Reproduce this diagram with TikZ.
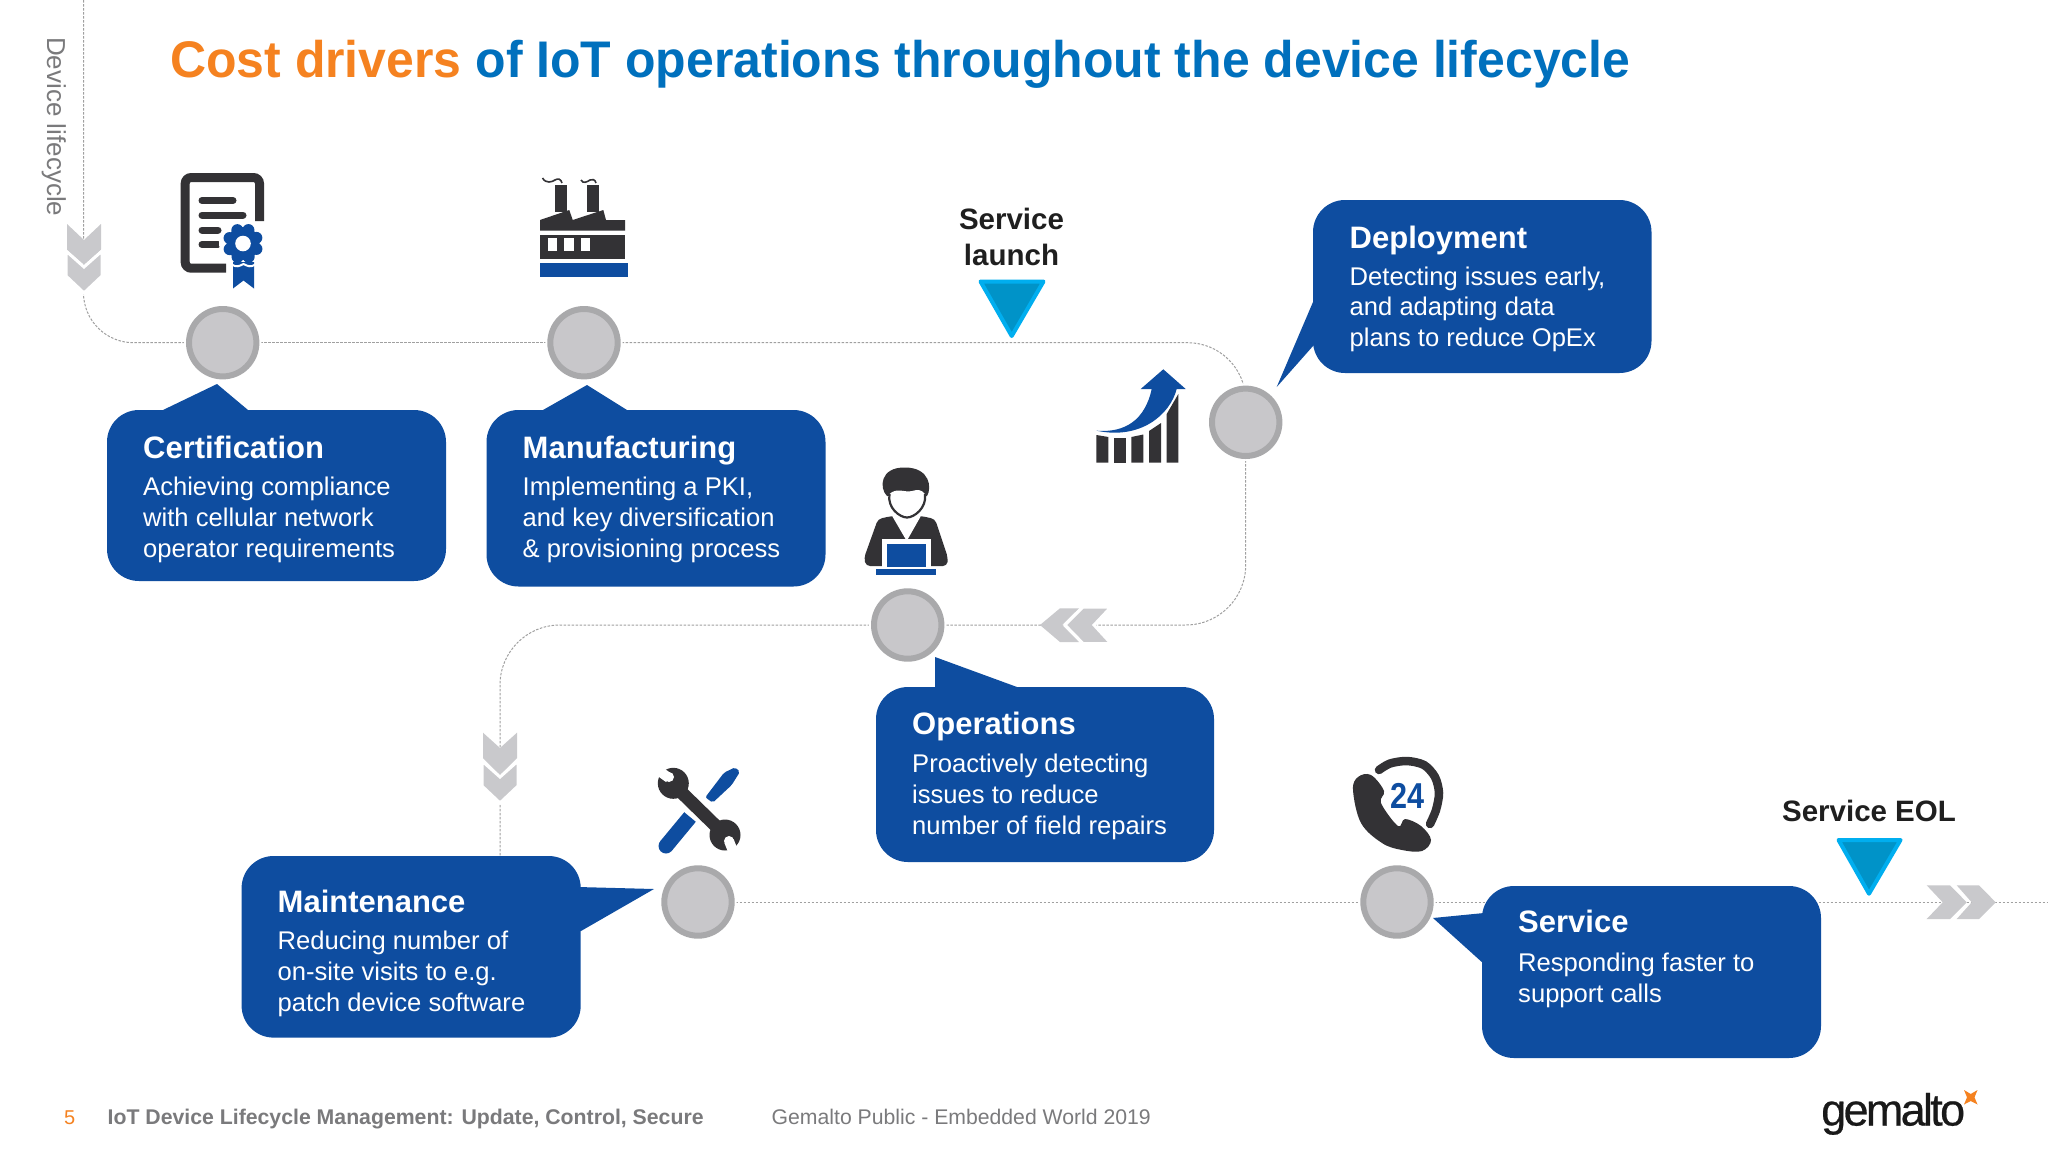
\documentclass[tikz,border=0pt]{standalone}
\usepackage{fontspec}
\setmainfont{Liberation Sans}
\newfontfamily\logofont[LetterSpace=-6,FakeBold=0.5]{Liberation Sans}
\newfontfamily\titlefont[FakeStretch=0.97]{Liberation Sans}
\newfontfamily\narrowfont[FakeStretch=0.85]{Liberation Sans}
\usetikzlibrary{backgrounds}
\definecolor{boxblue}{HTML}{0E4DA0}
\definecolor{iconblue}{HTML}{0E4DA0}
\definecolor{dark}{HTML}{333235}
\definecolor{titleorange}{HTML}{F58220}
\definecolor{titleblue}{HTML}{0070BD}
\definecolor{ringgrey}{HTML}{A9A9AB}
\definecolor{discgrey}{HTML}{C8C7CA}
\definecolor{chevgrey}{HTML}{C9C9CC}
\definecolor{linegrey}{HTML}{A0A0A0}
\definecolor{triout}{HTML}{00AEEF}
\definecolor{triin}{HTML}{0093C8}
\definecolor{foot}{HTML}{7A7A7C}
\tikzset{
  station/.style={circle,fill=discgrey,draw=ringgrey,line width=6pt,inner sep=0pt,outer sep=0pt,minimum size=67.4pt,preaction={draw=white,line width=10pt}},
  flow/.style={draw=linegrey,line width=1pt,dash pattern=on 2.5pt off 1.5pt},
  bluebox/.style={fill=boxblue,rounded corners=32pt},
  head/.style={text=white,anchor=base west,inner sep=0pt,font=\fontsize{31}{34}\selectfont\bfseries},
  body/.style={text=white,anchor=base west,inner sep=0pt,align=left,font=\fontsize{25.6}{30.7}\selectfont},
  marktext/.style={text=black!88,anchor=base,inner sep=0pt,font=\fontsize{29.5}{36}\selectfont\bfseries},
  chev/.style={fill=chevgrey},
  chevw/.style={fill=chevgrey,draw=white,line width=3pt},
  tri/.style={fill=triin,draw=triout,line width=4pt,line join=round},
  ico/.style={fill=dark},
  icb/.style={fill=iconblue},
}
\begin{document}
\begin{tikzpicture}[x=1pt,y=-1pt]
\useasboundingbox (0,0) rectangle (2048,1152);

% Title
\node[anchor=base west,inner sep=0pt,font=\fontsize{51.5}{56}\selectfont\titlefont\bfseries] (title) at (170,77.3)
  {\textcolor{titleorange}{Cost drivers} \textcolor{titleblue}{of IoT operations throughout the device lifecycle}};
\node[anchor=base west,rotate=-90,inner sep=0pt,text=foot,font=\fontsize{26}{30}\selectfont] (life) at (47,37) {Device lifecycle};

% Stations
\node[station] (cert) at (222.7,342.7) {};
\node[station] (manu) at (584,342.7) {};
\node[station] (depl) at (1245.7,422.3) {};
\node[station] (oper) at (907.7,625) {};
\node[station] (maint) at (698,902) {};
\node[station] (serv) at (1397,902) {};
\coordinate (start) at (83.5,0);
\coordinate (mdrop) at (500,860);
\coordinate (finish) at (2048,902);

% Connectors
\begin{scope}[on background layer]
\fill[white] (0,0) rectangle (2048,1152);
\draw[flow,rounded corners=50pt] (start) |- (cert);
\draw[flow] (cert) -- (manu);
\draw[flow,rounded corners=58pt] (manu) -| (depl);
\draw[flow,rounded corners=60pt] (depl) |- (oper);
\draw[flow,rounded corners=60pt] (oper) -| (mdrop);
\draw[flow] (maint) -- (serv);
\draw[flow] (serv) -- (finish);
\end{scope}

% Chevrons
\fill[chev] (67,224) -- (84,240) -- (101,224) -- (101,250) -- (84,265) -- (67,250) -- cycle;
\filldraw[chevw] (66,251) -- (84,267) -- (102,251) -- (102,276) -- (84,293) -- (66,276) -- cycle;
\fill[chev] (483,732.7) -- (500,748) -- (517,732.7) -- (517,758) -- (500,775) -- (483,758) -- cycle;
\filldraw[chevw] (482,761) -- (500,777) -- (518,761) -- (518,786) -- (500,803) -- (482,786) -- cycle;
\fill[chev] (1040,625) -- (1060,608.3) -- (1079,608.3) -- (1062,625) -- (1079,642) -- (1060,642) -- cycle;
\filldraw[chevw] (1065,625) -- (1083,607) -- (1111,607) -- (1094,625) -- (1111,643.5) -- (1083,643.5) -- cycle;
\fill[chev] (1926.7,885.3) -- (1950,885.3) -- (1966.7,902.3) -- (1950,919) -- (1926.7,919) -- (1942.7,902.3) -- cycle;
\fill[chev] (1956.7,885.3) -- (1979,885.3) -- (1995.7,902.3) -- (1979,919) -- (1956.7,919) -- (1971.7,902.3) -- cycle;

% Milestone triangles
\filldraw[tri] (980.5,281.5) -- (1043.5,281.5) -- (1011.7,336) -- cycle;
\filldraw[tri] (1838.5,840) -- (1900.5,840) -- (1869,893.7) -- cycle;
\node[marktext] (sl1) at (1011.5,229.3) {Service};
\node[marktext] (sl2) at (1011.5,265.3) {launch};
\node[marktext] (eol) at (1869,821.7) {Service EOL};

% Callouts
\fill[boxblue] (217,384) -- (163,410) -- (248,410) -- cycle;
\path[bluebox] (107,410) rectangle (446,581);
\node[head] (h1) at (143,458) {Certification};
\node[body] (b1) at (143,557) {Achieving compliance\\with cellular network\\operator requirements};

\fill[boxblue] (587,385) -- (543,410) -- (627,410) -- cycle;
\path[bluebox] (486.5,410) rectangle (825.5,586.5);
\node[head] (h2) at (522.5,458) {Manufacturing};
\node[body] (b2) at (522.5,557) {Implementing a PKI,\\and key diversification\\\& provisioning process};

\fill[boxblue] (1276.7,387) -- (1313,302) -- (1330,302) -- (1330,330) -- (1313,346) -- cycle;
\path[bluebox] (1313,200) rectangle (1651.5,373);
\node[head] (h3) at (1349.5,248) {Deployment};
\node[body] (b3) at (1349.5,346.4) {Detecting issues early,\\and adapting data\\plans to reduce OpEx};

\fill[boxblue] (935,657) -- (935,690) -- (1017,690) -- (1017,687) -- cycle;
\path[bluebox] (876,687) rectangle (1214,862);
\node[head] (h4) at (912,734.3) {Operations};
\node[body] (b4) at (912,834) {Proactively detecting\\issues to reduce\\number of field repairs};

\fill[boxblue] (654,889) -- (578,887) -- (578,931) -- (581,931) -- cycle;
\path[bluebox] (241.6,856) rectangle (580.7,1037.6);
\node[head] (h5) at (277.5,912) {Maintenance};
\node[body] (b5) at (277.5,1011) {Reducing number of\\on-site visits to e.g.\\patch device software};

\fill[boxblue] (1433,918) -- (1484,913) -- (1484,964) -- cycle;
\path[bluebox] (1482,886) rectangle (1821,1058);
\node[head] (h6) at (1518,932.7) {Service};
\node[body] (b6) at (1518,1002.3) {Responding faster to\\support calls};

% Certificate icon
\draw[dark,line width=9pt,rounded corners=6pt] (259.5,221) -- (259.5,177.5) -- (185.2,177.5) -- (185.2,268.2) -- (226,268.2);
\foreach \yy/\xe in {200.5/233,215/243,230/218,244.5/218}
  \draw[dark,line width=7pt,line cap=round] (202,\yy) -- (\xe,\yy);
\fill[white] (243,243.5) circle (24);
\fill[icb] (233,262) -- (254,262) -- (254,288.5) -- (243.5,280.5) -- (233,288.5) -- cycle;
\draw[white,line width=2pt] (231,264) .. controls (237,268) and (239,266) .. (243.5,264) .. controls (248,266) and (250,268) .. (256,264);
\fill[icb] (243,243.5) circle (16.5);
\foreach \aa in {0,45,...,315}
  \fill[icb] (243,243.5) ++(\aa+22:14.5) circle (6);
\fill[white] (243,243.5) circle (7.8);

% Factory icon
\fill[ico] (554.7,185.3) rectangle (566.7,212);
\fill[ico] (586.7,185.3) rectangle (598.7,212);
\fill[ico] (540,230.7) -- (540,220) -- (569.3,210) -- (572.7,220) -- (603.3,210) -- (606,220) -- (625,220) -- (625,230.7) -- cycle;
\fill[ico] (540,234.7) rectangle (625,259);
\fill[white] (547.7,238) rectangle (557,250.7);
\fill[white] (564.3,238) rectangle (573.7,250.7);
\fill[white] (580.7,238) rectangle (590,250.7);
\fill[icb] (539.7,263.3) rectangle (628.3,277.3);
\draw[dark,line width=1.6pt] (542.5,178) .. controls (546,184) and (552,182) .. (555,180) .. controls (558,178) and (561,179) .. (562,183);
\draw[dark,line width=1.6pt] (581,180) .. controls (583,184) and (587,182) .. (590,180) .. controls (592,179) and (595,179) .. (596,183);

% Growth icon
\fill[ico] (1096.3,435) -- (1108.3,437) -- (1108.3,462.7) -- (1096.3,462.7) -- cycle;
\fill[ico] (1113.7,438) -- (1125.7,438) -- (1125.7,462.7) -- (1113.7,462.7) -- cycle;
\fill[ico] (1131.3,437) -- (1143.3,434.5) -- (1143.3,462.7) -- (1131.3,462.7) -- cycle;
\fill[ico] (1149,431) -- (1161,423) -- (1161,462.7) -- (1149,462.7) -- cycle;
\fill[ico] (1166.7,414) -- (1178.3,394) -- (1178.3,462.7) -- (1166.7,462.7) -- cycle;
\fill[icb] (1163.3,369.3) -- (1185.7,389) -- (1176.7,389) .. controls (1170,415) and (1140,440) .. (1096.7,430.7)
   .. controls (1125,433) and (1145,420) .. (1151.7,389) -- (1140.7,389) -- cycle;

% Person icon
\fill[ico,rounded corners=4pt] (892,516) -- (878,519) -- (864,558) -- (866,566) -- (947,566) -- (948,558) -- (935,519) -- (921,516) -- cycle;
\fill[white] (891,514) -- (906.7,541) -- (922,514) -- cycle;
\fill[white] (881.7,539) rectangle (931,569);
\fill[icb] (886.7,544) rectangle (926,566.7);
\fill[icb] (875.7,569.3) rectangle (936,575);
\fill[ico] (887,496) .. controls (879,488) and (880,467) .. (905,467.5) .. controls (930,467.5) and (932,488) .. (927,496) -- cycle;
\fill[white] (889.5,494) .. controls (897,487) and (905,493) .. (912,491) .. controls (918,489) and (922,490) .. (925,494) .. controls (927,508) and (914,517) .. (907,517) .. controls (900,517) and (887,508) .. (889.5,494) -- cycle;
\draw[dark,line width=2.2pt] (889.5,494) .. controls (887,508) and (900,517.5) .. (907,517.5) .. controls (914,517.5) and (927,508) .. (925,494);

% Tools icon
\draw[draw=iconblue,line width=15pt] (690,817) -- (666,846);
\fill[icb] (666,846) circle (7.5);
\fill[icb,rounded corners=2pt] (705.3,797.3) -- (712.7,802.7) -- (731.7,785) -- (740,771.7) -- (735,767.3) -- (724,772.7) -- cycle;
\draw[white,line width=19pt] (680,791) -- (718,828);
\draw[dark,line width=13pt] (677,788) -- (721,831);
\fill[dark] (673.3,783.3) circle (15.5);
\fill[dark] (725,835) circle (15.5);
\draw[white,line width=10pt] (669,778) -- (655,768);
\draw[white,line width=10pt] (729,841) -- (735,856);
\fill[white] (669,777) circle (5);
\fill[white] (729,841) circle (5);

% Phone icon
\draw[draw=dark,line width=8.5pt,line cap=round] plot[smooth] coordinates {(1379,770) (1390,763.5) (1407,761) (1424,765) (1435,777) (1439,793) (1436,810) (1430,824)};
\fill[dark] plot[smooth cycle,tension=0.6] coordinates {(1353,790) (1361,823) (1382,843) (1402,850) (1422,851) (1431,840) (1421,826) (1405,819) (1398,826) (1381,803) (1384,791) (1371,775) (1358,777)};
\node[inner sep=0pt,text=iconblue,font=\fontsize{36}{37}\selectfont\narrowfont\bfseries] (h24) at (1407.5,796) {24};

% Footer
\node[anchor=base west,inner sep=0pt,text=titleorange,font=\fontsize{20}{22}\selectfont] (pg) at (64,1124.3) {5};
\node[anchor=base west,inner sep=0pt,text=foot,font=\fontsize{21.25}{24}\selectfont\bfseries] (f1) at (107.5,1124.3) {IoT Device Lifecycle Management: Update, Control, Secure};
\node[anchor=base west,inner sep=0pt,text=foot,font=\fontsize{21.2}{24}\selectfont] (f2) at (771.5,1124.3) {Gemalto Public - Embedded World 2019};

% Logo
\node[anchor=base west,inner sep=0pt,text=black!90,font=\fontsize{45}{48}\selectfont\logofont] (logo) at (1821,1125.5) {gemalto};
\fill[titleorange] (1964,1090) -- (1970.7,1094) -- (1977.5,1090) -- (1974.5,1097.3) -- (1977.5,1104.5) -- (1970.7,1101) -- (1964,1104.5) -- (1967,1097.3) -- cycle;
\end{tikzpicture}
\end{document}
